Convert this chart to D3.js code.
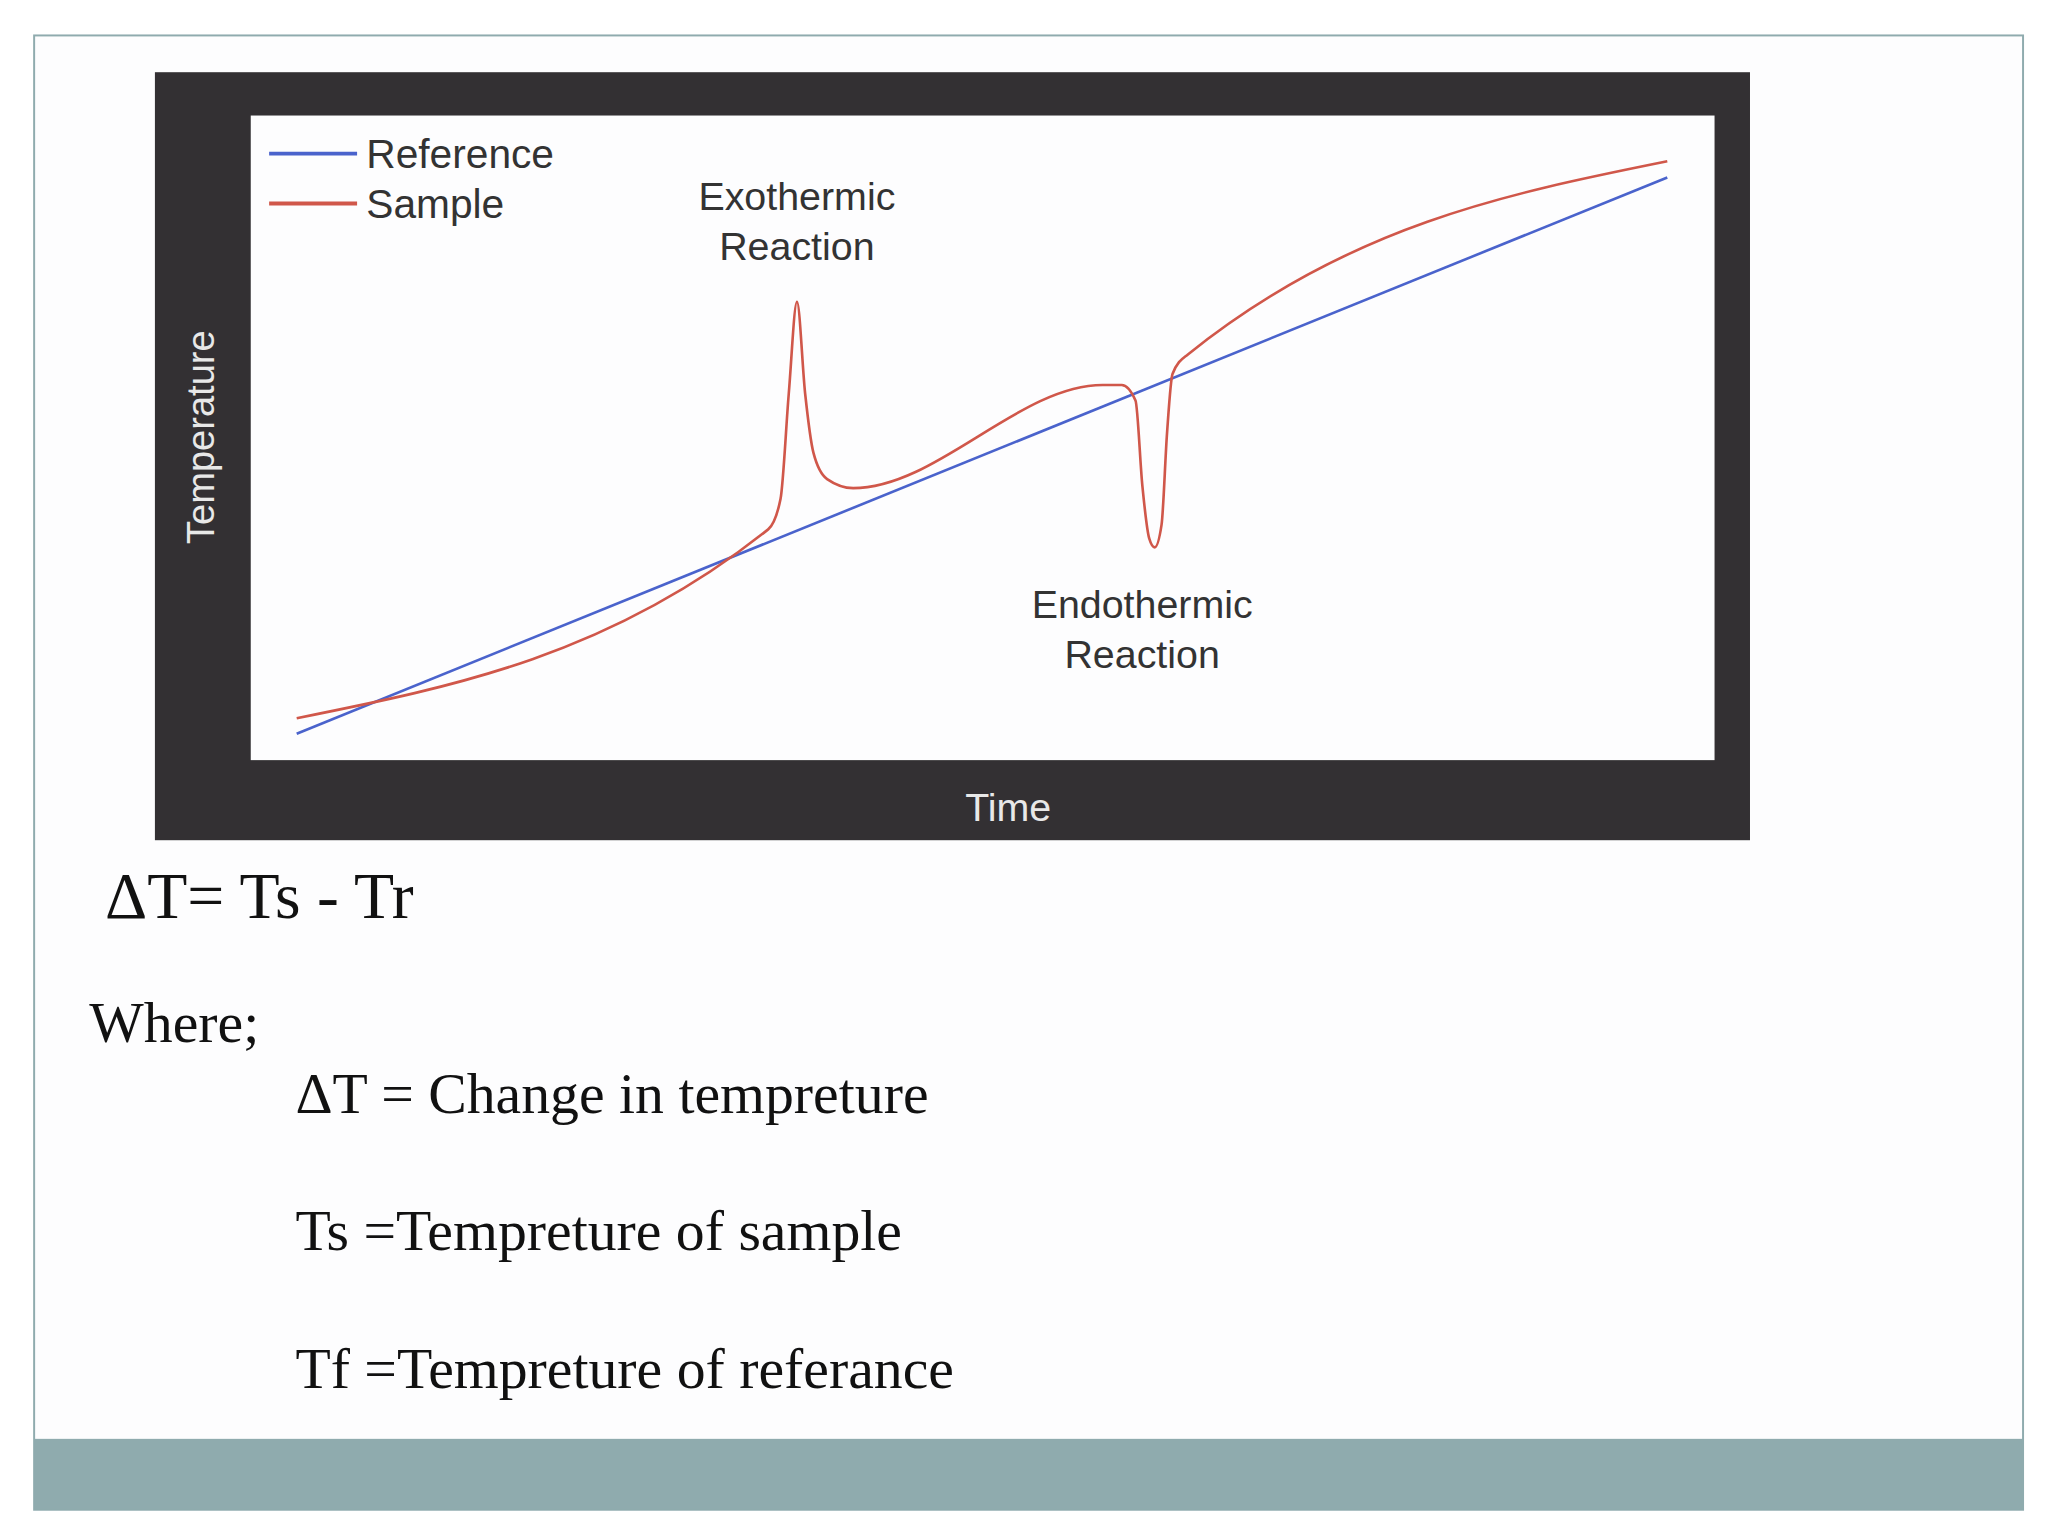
<!doctype html>
<html>
<head>
<meta charset="utf-8">
<script src="https://d3js.org/d3.v7.min.js"></script>
<style>
  body { margin: 0; background: #fff; }
  .sans { font-family: Arial, "Liberation Sans", sans-serif; }
  .serif { font-family: "Liberation Serif", "Times New Roman", serif; }
</style>
</head>
<body>
<script>
// time (arbitrary units) vs temperature (arbitrary units)
const refTime = [0, 100];
const refTemp = [4.1, 90.4];
const sampleTime = [0, 34.4, 35.3, 35.9, 36.5, 37.1, 37.7, 38.7, 40.6, 58.8, 60.2, 61.2, 61.7, 62.2, 62.6, 63.1, 63.5, 63.9, 65.0, 100];
const sampleTemp = [6.5, 35.8, 40.5, 56.8, 71.1, 56.8, 47.7, 43.6, 42.2, 58.2, 58.2, 55.8, 42.6, 34.4, 33.0, 36.5, 50.7, 59.9, 62.9, 92.9];
const notes = ["Where;", "\u0394T = Change in tempreture", "Ts =Tempreture of sample", "Tf =Tempreture of referance"];

const svg = d3.select("body").append("svg")
    .attr("width", 2048).attr("height", 1536)
    .attr("viewBox", "0 0 1560 1170");

// slide frame
svg.append("rect").attr("x", 26).attr("y", 27).attr("width", 1515).attr("height", 1123)
    .attr("fill", "#fdfdfe").attr("stroke", "#8fabae").attr("stroke-width", 1.5);
svg.append("rect").attr("x", 26).attr("y", 1096).attr("width", 1515).attr("height", 54).attr("fill", "#8fabae");

// dark panel + plot area
svg.append("rect").attr("x", 118).attr("y", 55).attr("width", 1215).attr("height", 585).attr("fill", "#333033");
svg.append("rect").attr("x", 191).attr("y", 88).attr("width", 1115).attr("height", 491).attr("fill", "#fdfdfe");

const x = d3.scaleLinear().domain([0, 100]).range([226, 1270]);
const y = d3.scaleLinear().domain([0, 100]).range([579, 88]);
const line = d3.line().x(d => x(d[0])).y(d => y(d[1])).curve(d3.curveMonotoneX);

svg.append("path").datum(d3.zip(refTime, refTemp)).attr("d", line)
    .attr("fill", "none").attr("stroke", "#4a63cc").attr("stroke-width", 2);
svg.append("path").datum(d3.zip(sampleTime, sampleTemp)).attr("d", line)
    .attr("fill", "none").attr("stroke", "#d0574a").attr("stroke-width", 2);

// legend
[["Reference", "#4a63cc", 117], ["Sample", "#d0574a", 155]].forEach(([t, c, yy]) => {
  svg.append("line").attr("x1", 205).attr("x2", 272).attr("y1", yy).attr("y2", yy)
      .attr("stroke", c).attr("stroke-width", 3);
  svg.append("text").attr("class", "sans").attr("x", 279).attr("y", yy + 11)
      .attr("font-size", 31).attr("fill", "#333").text(t);
});

const label = (lines, cx, y0) => lines.forEach((t, i) =>
  svg.append("text").attr("class", "sans").attr("x", cx).attr("y", y0 + i * 38)
     .attr("text-anchor", "middle").attr("font-size", 30).attr("fill", "#333").text(t));
label(["Exothermic", "Reaction"], 607, 160);
label(["Endothermic", "Reaction"], 870, 471);

svg.append("text").attr("class", "sans").attr("transform", "translate(163,333) rotate(-90)")
    .attr("text-anchor", "middle").attr("font-size", 29).attr("fill", "#e8e8e8").text("Temperature");
svg.append("text").attr("class", "sans").attr("x", 768).attr("y", 625)
    .attr("text-anchor", "middle").attr("font-size", 30).attr("fill", "#e8e8e8").text("Time");

// slide text
svg.append("text").attr("class", "serif").attr("x", 80).attr("y", 699)
    .attr("font-size", 50).attr("fill", "#111").text("\u0394T= Ts - Tr");
notes.forEach((t, i) =>
  svg.append("text").attr("class", "serif").attr("x", i === 0 ? 68 : 225)
     .attr("y", i === 0 ? 794 : 848 + (i - 1) * 104.5)
     .attr("font-size", 44).attr("fill", "#111").text(t));
</script>
</body>
</html>
